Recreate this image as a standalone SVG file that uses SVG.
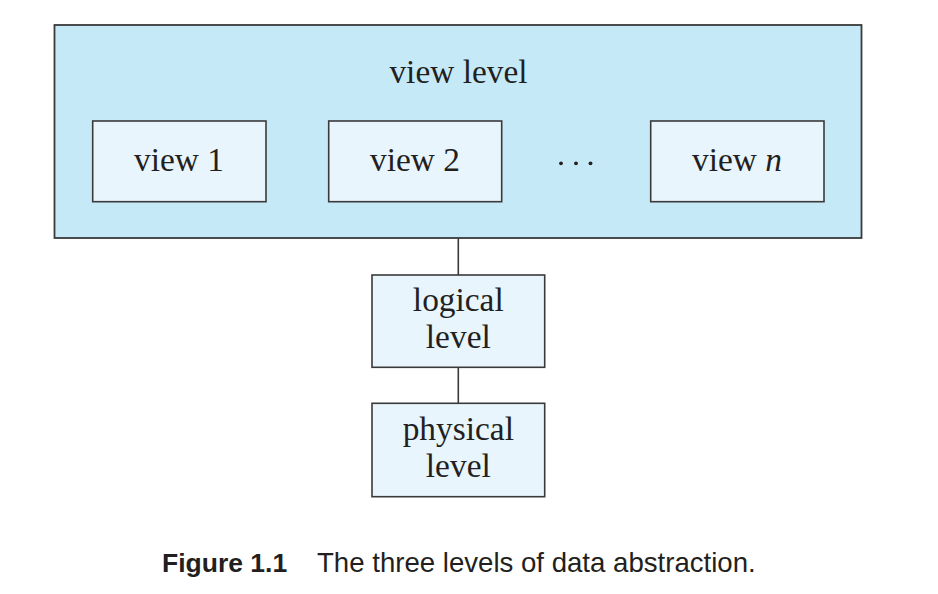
<svg xmlns="http://www.w3.org/2000/svg" width="938" height="594" viewBox="0 0 938 594">
<style>
.box{fill:#e8f5fc;stroke:#3a3a3a;stroke-width:1.6}
.outer{fill:#c6e9f8;stroke:#3a3a3a;stroke-width:1.8}
.t{font-family:"Liberation Serif","Times New Roman",serif;font-size:33.4px;fill:#231f20;text-anchor:middle}
.conn{stroke:#3a3a3a;stroke-width:1.6;fill:none}
.cap{font-family:"Liberation Sans",Arial,sans-serif;fill:#231f20}
</style>
<rect width="938" height="594" fill="#ffffff"/>
<g id="view-level">
<rect class="outer" x="54.5" y="25" width="807" height="213"/>
<text class="t" x="458.5" y="83">view level</text>
</g>
<g id="view1">
<rect class="box" x="92.7" y="121" width="173.3" height="80.7"/>
<text class="t" x="179" y="171">view 1</text>
</g>
<g id="view2">
<rect class="box" x="328.7" y="121" width="173" height="80.7"/>
<text class="t" x="415" y="171">view 2</text>
</g>
<g id="ellipsis" fill="#231f20">
<circle cx="561" cy="163.3" r="1.9"/>
<circle cx="576" cy="163.3" r="1.9"/>
<circle cx="590.5" cy="163.3" r="1.9"/>
</g>
<g id="viewn">
<rect class="box" x="650.7" y="121" width="173.3" height="80.7"/>
<text class="t" x="737" y="171">view <tspan font-style="italic">n</tspan></text>
</g>
<g id="connectors">
<line class="conn" x1="458.3" y1="238" x2="458.3" y2="275"/>
<line class="conn" x1="458.3" y1="367.3" x2="458.3" y2="403.3"/>
</g>
<g id="logical">
<rect class="box" x="372" y="275" width="172.7" height="92.3"/>
<text class="t" x="458.3" y="311">logical</text>
<text class="t" x="458.3" y="348">level</text>
</g>
<g id="physical">
<rect class="box" x="372" y="403.3" width="172.7" height="93.4"/>
<text class="t" x="458.3" y="440">physical</text>
<text class="t" x="458.3" y="477">level</text>
</g>
<g id="caption">
<text class="cap" x="162" y="571.7" font-size="26.5" font-weight="bold">Figure 1.1</text>
<text class="cap" x="317" y="571.7" font-size="27.6">The three levels of data abstraction.</text>
</g>
</svg>
